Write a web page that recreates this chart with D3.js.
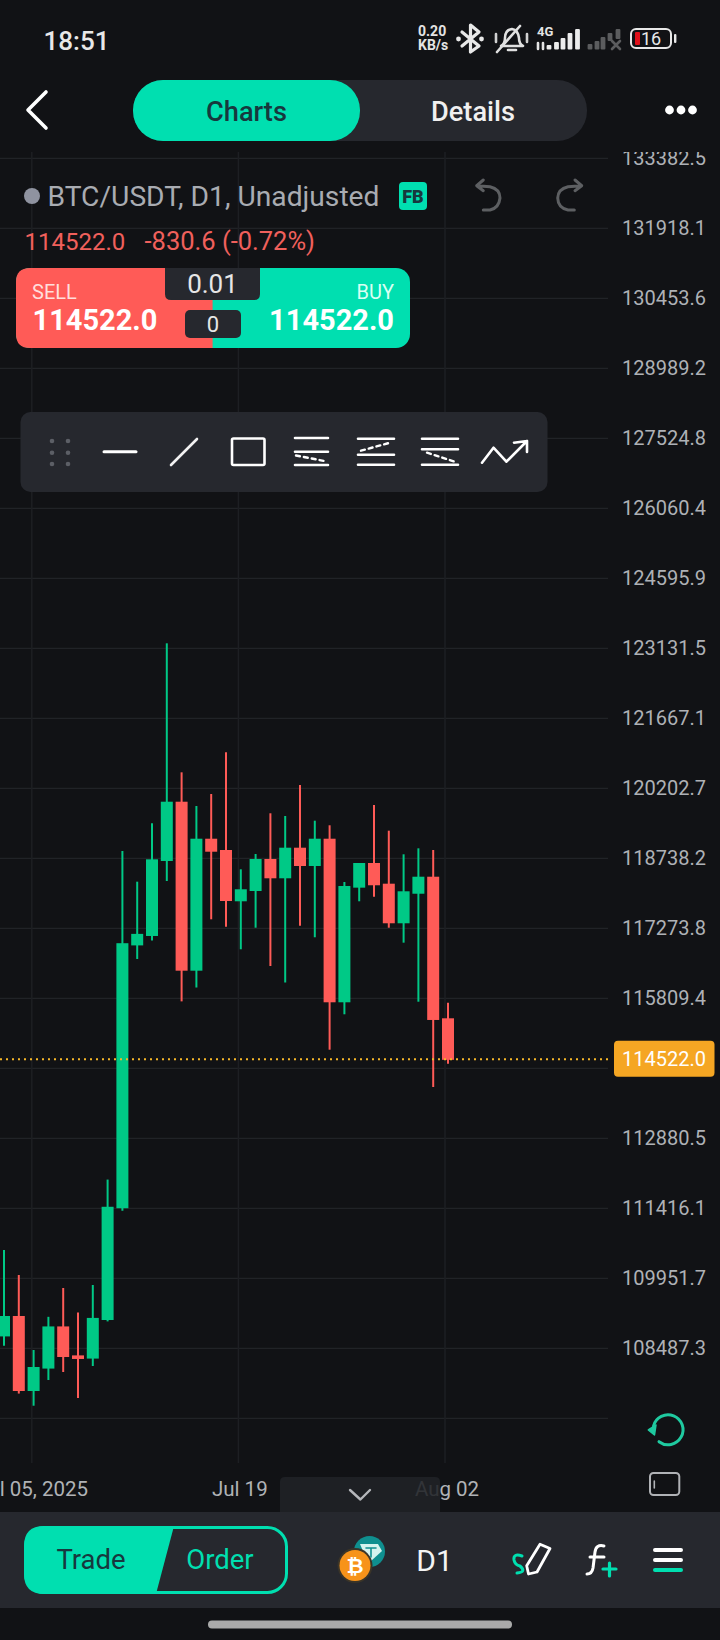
<!DOCTYPE html>
<html>
<head>
<meta charset="utf-8">
<script src="https://cdn.jsdelivr.net/npm/d3@7"></script>
<style>
  html, body { margin: 0; padding: 0; background: #111215; }
  svg { display: block; }
  text { font-family: Roboto, sans-serif; }
</style>
</head>
<body>
<div id="chart"></div>
<script>
const dates = ['Jul 03','Jul 04','Jul 05','Jul 06','Jul 07','Jul 08','Jul 09','Jul 10','Jul 11','Jul 12','Jul 13',
  'Jul 14','Jul 15','Jul 16','Jul 17','Jul 18','Jul 19','Jul 20','Jul 21','Jul 22','Jul 23','Jul 24','Jul 25',
  'Jul 26','Jul 27','Jul 28','Jul 29','Jul 30','Jul 31','Aug 01','Aug 02'];
const opens = [108736,109163,107594,108063,108945,108339,108272,109079,111418,116916,117113,118682,119922,116387,
  119148,118912,117839,118054,118724,118320,118960,118577,119148,115726,118124,118640,118207,117379,117997,118353,115391];
const closes = [109163,107594,108096,108945,108305,108264,109123,111448,116962,117157,118717,119922,116387,119148,
  118876,117845,118090,118724,118320,118960,118577,119148,115726,118159,118640,118174,117379,118048,118353,115356,114522];
const highs = [110544,110021,108452,109146,109749,109236,109812,112017,118891,118249,119470,123236,120537,119832,
  120083,120956,118508,118828,119680,119623,120272,119525,119429,118243,118640,119853,119316,118822,118947,118912,115718];
const lows = [108542,107540,107286,107824,107991,107448,108117,109050,111366,116632,117021,118263,115745,116035,
  117462,117307,116835,117286,116485,116140,117328,117086,114734,115475,117839,117935,117286,116973,115738,113954,114441];

const priceTicks = [133382.5,131918.1,130453.6,128989.2,127524.8,126060.4,124595.9,123131.5,121667.1,120202.7,
  118738.2,117273.8,115809.4,114345.0,112880.5,111416.1,109951.7,108487.3,107022.9];
const hiddenLabels = [114345.0, 107022.9];
const dateTicks = ['Jul 05','Jul 19','Aug 02'];
const dateLabels = ['Jul 05, 2025','Jul 19','Aug 02'];
const lastPrice = 114522.0;

const bg = '#111215', panel = '#26282e', mint = '#00dfb0', up = '#00c986', down = '#ff5b57';
const fmt = d3.format('.1f');

const svg = d3.select('#chart').append('svg').attr('width', 720).attr('height', 1640);

const x = d3.scalePoint().domain(dates).range([4, 448]);
// the vertical grid runs slightly left of the candles
const gridX = d3.scalePoint().domain(dates).range([2.3, 445]);
const y = d3.scaleLinear().domain([123131.5, 108487.3]).range([648.3, 1348.3]);

// grid
const grid = svg.append('g');
grid.selectAll('.h').data(priceTicks).enter().append('line')
  .attr('x1', 0).attr('x2', 608)
  .attr('y1', d => y(d)).attr('y2', d => y(d))
  .attr('stroke', '#26282c').attr('stroke-width', 1);
grid.selectAll('.v').data(dateTicks).enter().append('line')
  .attr('x1', d => gridX(d)).attr('x2', d => gridX(d))
  .attr('y1', 152).attr('y2', 1463)
  .attr('stroke', '#1d1f23').attr('stroke-width', 1.5);

const candles = svg.append('g');
const idx = d3.range(dates.length);
candles.selectAll('.wick').data(idx).enter().append('line')
  .attr('x1', i => x(dates[i])).attr('x2', i => x(dates[i]))
  .attr('y1', i => y(highs[i])).attr('y2', i => y(lows[i]))
  .attr('stroke', i => closes[i] >= opens[i] ? up : down)
  .attr('stroke-width', 2);
candles.selectAll('.body').data(idx).enter().append('rect')
  .attr('x', i => x(dates[i]) - 6).attr('width', 12)
  .attr('y', i => y(Math.max(opens[i], closes[i])))
  .attr('height', i => Math.abs(y(opens[i]) - y(closes[i])))
  .attr('fill', i => closes[i] >= opens[i] ? up : down);

svg.append('line')
  .attr('x1', 0).attr('x2', 610)
  .attr('y1', y(lastPrice) - 0.5).attr('y2', y(lastPrice) - 0.5)
  .attr('stroke', '#f8b828').attr('stroke-width', 2).attr('stroke-dasharray', '2 4');

// price axis
const yAxis = d3.axisRight(y)
  .tickValues(priceTicks.filter(d => !hiddenLabels.includes(d)))
  .tickFormat(fmt).tickSize(0).tickPadding(0);
const yG = svg.append('g').attr('transform', 'translate(622,0)').call(yAxis);
yG.select('.domain').remove();
yG.selectAll('text').attr('fill', '#aeb1b6').style('font-size', '20px').style('font-family', 'Roboto, sans-serif');

// date axis
svg.selectAll('.dateLabel').data(dateTicks).enter().append('text')
  .attr('x', d => x(d) - 1).attr('y', 1496)
  .attr('text-anchor', 'middle').attr('fill', '#b0b2b6').attr('font-size', 20.5)
  .text((d, i) => dateLabels[i]);

// last price tag
svg.append('rect').attr('x', 614).attr('y', 1040.7).attr('width', 100.5).attr('height', 36).attr('rx', 4).attr('fill', '#f5a623');
svg.append('text').attr('x', 664).attr('y', 1066).attr('text-anchor', 'middle')
  .attr('fill', '#fff').attr('font-size', 20).text(fmt(lastPrice));

// ---- header ----
svg.append('rect').attr('width', 720).attr('height', 152).attr('fill', bg);
function label(t, px, py, size, fill, anchor, weight) {
  return svg.append('text').attr('x', px).attr('y', py).attr('font-size', size).attr('fill', fill)
    .attr('text-anchor', anchor || 'start').attr('font-weight', weight || 400).text(t);
}
function stroke(d, color, w, dash) {
  return svg.append('path').attr('d', d).attr('fill', 'none').attr('stroke', color)
    .attr('stroke-width', w).attr('stroke-linecap', 'round').attr('stroke-linejoin', 'round')
    .attr('stroke-dasharray', dash || null);
}

// status bar
label('18:51', 43.5, 50, 26, '#e8e8e8', 'start', 500);
label('0.20', 418, 36, 14, '#e4e4e4', 'start', 700);
label('KB/s', 418, 50, 14, '#e4e4e4', 'start', 700);
stroke('M462 32 L479 46 L470.5 52 L470.5 25 L479 32 L462 46', '#e8e8e8', 3.2);
svg.selectAll('.bt').data([[458.5, 39], [481.5, 39]]).enter().append('circle')
  .attr('cx', d => d[0]).attr('cy', d => d[1]).attr('r', 2.4).attr('fill', '#e8e8e8');
stroke('M501 46 Q505 44 505 38 Q505 30 512 29 Q518 30 519 38 Q519 44 523 46 Z', '#e0e0e0', 2.6);
stroke('M497 52 L520 26', '#e0e0e0', 2.6);
stroke('M508 50 L516 50', '#e0e0e0', 2.6);
stroke('M496 34 L496 42 M527 34 L527 42', '#d0d0d0', 2.6);
label('4G', 537, 36, 13, '#e4e4e4', 'start', 700);
stroke('M538 43 L538 49 M543 43 L543 49', '#e4e4e4', 2.6);
const signal1 = [[549, 45], [556.5, 42], [563, 38], [570, 33], [577.5, 29]];
svg.selectAll('.s1').data(signal1).enter().append('rect')
  .attr('x', d => d[0] - 2.4).attr('y', d => d[1]).attr('width', 4.8).attr('height', d => 49.5 - d[1]).attr('rx', 1).attr('fill', '#ececec');
const signal2 = [[590, 44, 49.5], [597, 41, 49.5], [603, 37, 49.5], [610, 33, 41], [618, 29, 39]];
svg.selectAll('.s2').data(signal2).enter().append('rect')
  .attr('x', d => d[0] - 2.4).attr('y', d => d[1]).attr('width', 4.8).attr('height', d => d[2] - d[1]).attr('rx', 1).attr('fill', '#5b5c5e');
stroke('M612 41 L620 49 M620 41 L612 49', '#5b5c5e', 2.6);
svg.append('rect').attr('x', 631).attr('y', 29).attr('width', 40).attr('height', 19).attr('rx', 5).attr('fill', 'none').attr('stroke', '#e8e8e8').attr('stroke-width', 2);
svg.append('rect').attr('x', 635).attr('y', 32).attr('width', 5).attr('height', 13).attr('rx', 1).attr('fill', '#e0101a');
label('16', 651, 45, 18, '#e8e8e8', 'middle');
svg.append('rect').attr('x', 674).attr('y', 34).attr('width', 2.4).attr('height', 9).attr('rx', 1).attr('fill', '#e8e8e8');

// top tabs
stroke('M46 92 L28 110 L46 128', '#fff', 3.6);
svg.append('rect').attr('x', 133).attr('y', 80).attr('width', 454).attr('height', 61).attr('rx', 30).attr('fill', panel);
svg.append('rect').attr('x', 133).attr('y', 80).attr('width', 227).attr('height', 61).attr('rx', 30).attr('fill', mint);
label('Charts', 246.5, 121, 27.2, '#17383e', 'middle', 500);
label('Details', 473, 121, 27.2, '#f0f0f0', 'middle', 500);
svg.selectAll('.more').data([669.5, 681, 692.5]).enter().append('circle')
  .attr('cx', d => d).attr('cy', 110).attr('r', 4.4).attr('fill', '#fff');

// symbol line
svg.append('circle').attr('cx', 32).attr('cy', 196).attr('r', 8).attr('fill', '#8f93a0');
label('BTC/USDT, D1, Unadjusted', 47.5, 206, 28.2, '#a9acb2');
svg.append('rect').attr('x', 399).attr('y', 182).attr('width', 28).attr('height', 28).attr('rx', 4).attr('fill', mint);
label('FB', 413, 202.5, 18, '#17383e', 'middle', 900);
stroke('M476.7 185.7 L490 186.7 Q500 189 500 198 Q499 208 490 210 L483.3 210 M483.3 180 L476.7 185.7 L483.3 190.7', '#5d5f62', 3);
stroke('M581.7 185.7 L568 186.7 Q558 189 557.7 198 Q558 208 568 210 L574.3 210 M575 180 L581.7 185.7 L575 190.7', '#5d5f62', 3);

label('114522.0', 24.5, 250, 24, '#f0605c');
label('-830.6 (-0.72%)', 144.5, 250, 25.5, '#f0605c');

// sell / buy box
svg.append('rect').attr('x', 16).attr('y', 268).attr('width', 394).attr('height', 80).attr('rx', 14).attr('fill', mint);
svg.append('path').attr('d', 'M212.6 268 L30 268 Q16 268 16 282 L16 334 Q16 348 30 348 L212.6 348 Z').attr('fill', down);
svg.append('path').attr('d', 'M165 268 L260 268 L260 294 Q260 300 254 300 L171 300 Q165 300 165 294 Z').attr('fill', panel);
svg.append('rect').attr('x', 185).attr('y', 310).attr('width', 56).attr('height', 28).attr('rx', 5).attr('fill', panel);
label('0.01', 212.5, 293, 26, '#e6e6e6', 'middle');
label('0', 213, 332, 22, '#e6e6e6', 'middle');
label('SELL', 32, 299, 20, '#ffdedc');
label('BUY', 394, 299, 20, '#d8fff3', 'end');
label('114522.0', 32.5, 330, 29, '#fff', 'start', 700);
label('114522.0', 394, 330, 29, '#fff', 'end', 700);

// drawing toolbar
svg.append('rect').attr('x', 20.5).attr('y', 412).attr('width', 527).attr('height', 80).attr('rx', 10).attr('fill', panel);
const gripDots = d3.cross([52, 68], [441, 452.7, 464]);
svg.selectAll('.grip').data(gripDots).enter().append('circle')
  .attr('cx', d => d[0]).attr('cy', d => d[1]).attr('r', 2.3).attr('fill', '#5c5f66');
stroke('M104 451.7 L136 451.7', '#fff', 3);
stroke('M171 465 L197 439', '#f2f2f2', 2.6);
svg.append('rect').attr('x', 232).attr('y', 438.5).attr('width', 32.5).attr('height', 26.5).attr('rx', 1.5).attr('fill', 'none').attr('stroke', '#fff').attr('stroke-width', 2.6);
stroke('M295 438 L328 438 M295 451.7 L328 451.7 M295 465 L328 465', '#fff', 2.6);
stroke('M296 455.5 L327 461.5', '#fff', 2.4, '4 4');
stroke('M358 438.7 L394 438.7 M358 454.7 L394 454.7 M358 464.7 L394 464.7', '#fff', 2.6);
stroke('M361 450.7 L390 442.7', '#fff', 2.4, '4 4');
stroke('M422 438.7 L458 438.7 M422 449.3 L458 449.3 M422 464.7 L458 464.7', '#fff', 2.6);
stroke('M427 452.7 L455 461.7', '#fff', 2.4, '4 4');
stroke('M482 462.7 L493.5 447.7 L506.4 461.7 L527 441 M514 442.7 L527 441 L527 452', '#fff', 2.6);

// ---- footer ----
svg.append('path').attr('d', 'M280 1512 L280 1482 Q280 1477 285 1477 L435 1477 Q440 1477 440 1482 L440 1512 Z')
  .attr('fill', '#202227').attr('fill-opacity', 0.88);
stroke('M350 1490 L360.4 1499.5 L370 1490', '#b5b7bb', 2.4);
svg.append('rect').attr('y', 1512).attr('width', 720).attr('height', 96).attr('fill', panel);
svg.append('rect').attr('x', 208).attr('y', 1620.5).attr('width', 304).attr('height', 8).attr('rx', 4).attr('fill', '#aaa');

svg.append('rect').attr('x', 25.5).attr('y', 1527.5).attr('width', 261).attr('height', 65).attr('rx', 19).attr('fill', panel).attr('stroke', mint).attr('stroke-width', 3);
svg.append('path').attr('d', 'M174 1526 L156 1594 L44 1594 Q24 1594 24 1574 L24 1546 Q24 1526 44 1526 Z').attr('fill', mint);
label('Trade', 91, 1569, 27.5, '#17383e', 'middle', 400);
label('Order', 220, 1569, 27.5, mint, 'middle', 400);

// coins
svg.append('circle').attr('cx', 369.5).attr('cy', 1551.5).attr('r', 15.5).attr('fill', '#0f8f8f');
svg.append('path').attr('d', 'M360 1544 L378 1544 L382 1551 L371 1561 L365 1556 Z').attr('fill', '#d5f3ee');
stroke('M366 1548 L376 1548 M371 1548 L371 1557', '#0f8f8f', 1.6);
svg.append('circle').attr('cx', 355).attr('cy', 1565.5).attr('r', 17.5).attr('fill', '#3a3428');
svg.append('circle').attr('cx', 355).attr('cy', 1565.5).attr('r', 15.5).attr('fill', '#f7931a');
label('₿', 355, 1573, 21, '#fff', 'middle', 700).attr('font-family', 'DejaVu Sans');

label('D1', 434.5, 1571, 30, '#f4f4f4', 'middle');

// pencil and squiggle
stroke('M522 1556 Q513 1553 514 1560 Q515 1565 520 1566 Q527 1572 517 1573', mint, 3);
stroke('M528.5 1574 L526.7 1565.7 L540 1544.3 L550 1548.5 L537 1572 Z', '#fff', 2.8);
// f+
stroke('M604 1546 Q596 1544 595 1552 L593 1568 Q592 1574 587 1574 M590 1557 L604 1557', '#fff', 3);
stroke('M603 1569 L616 1569 M609.5 1563 L609.5 1576', mint, 3.2);
// menu
stroke('M655 1550 L681 1550 M655 1560 L681 1560', '#fff', 4);
stroke('M655 1570 L681 1570', mint, 4);

// refresh + screen icons
stroke('M653.5 1426 A15 15 0 1 1 659 1441.7', '#1fcaa0', 3);
svg.append('path').attr('d', 'M648.3 1430 L656 1425 L654.5 1435 Z').attr('fill', '#1fcaa0').attr('stroke', '#1fcaa0').attr('stroke-width', 1.5).attr('stroke-linejoin', 'round');
svg.append('rect').attr('x', 650).attr('y', 1473).attr('width', 29.3).attr('height', 22).attr('rx', 3.5).attr('fill', 'none').attr('stroke', '#b0b2b6').attr('stroke-width', 2);
stroke('M654.3 1481 L654.3 1488', '#b0b2b6', 1.6);
</script>
</body>
</html>
